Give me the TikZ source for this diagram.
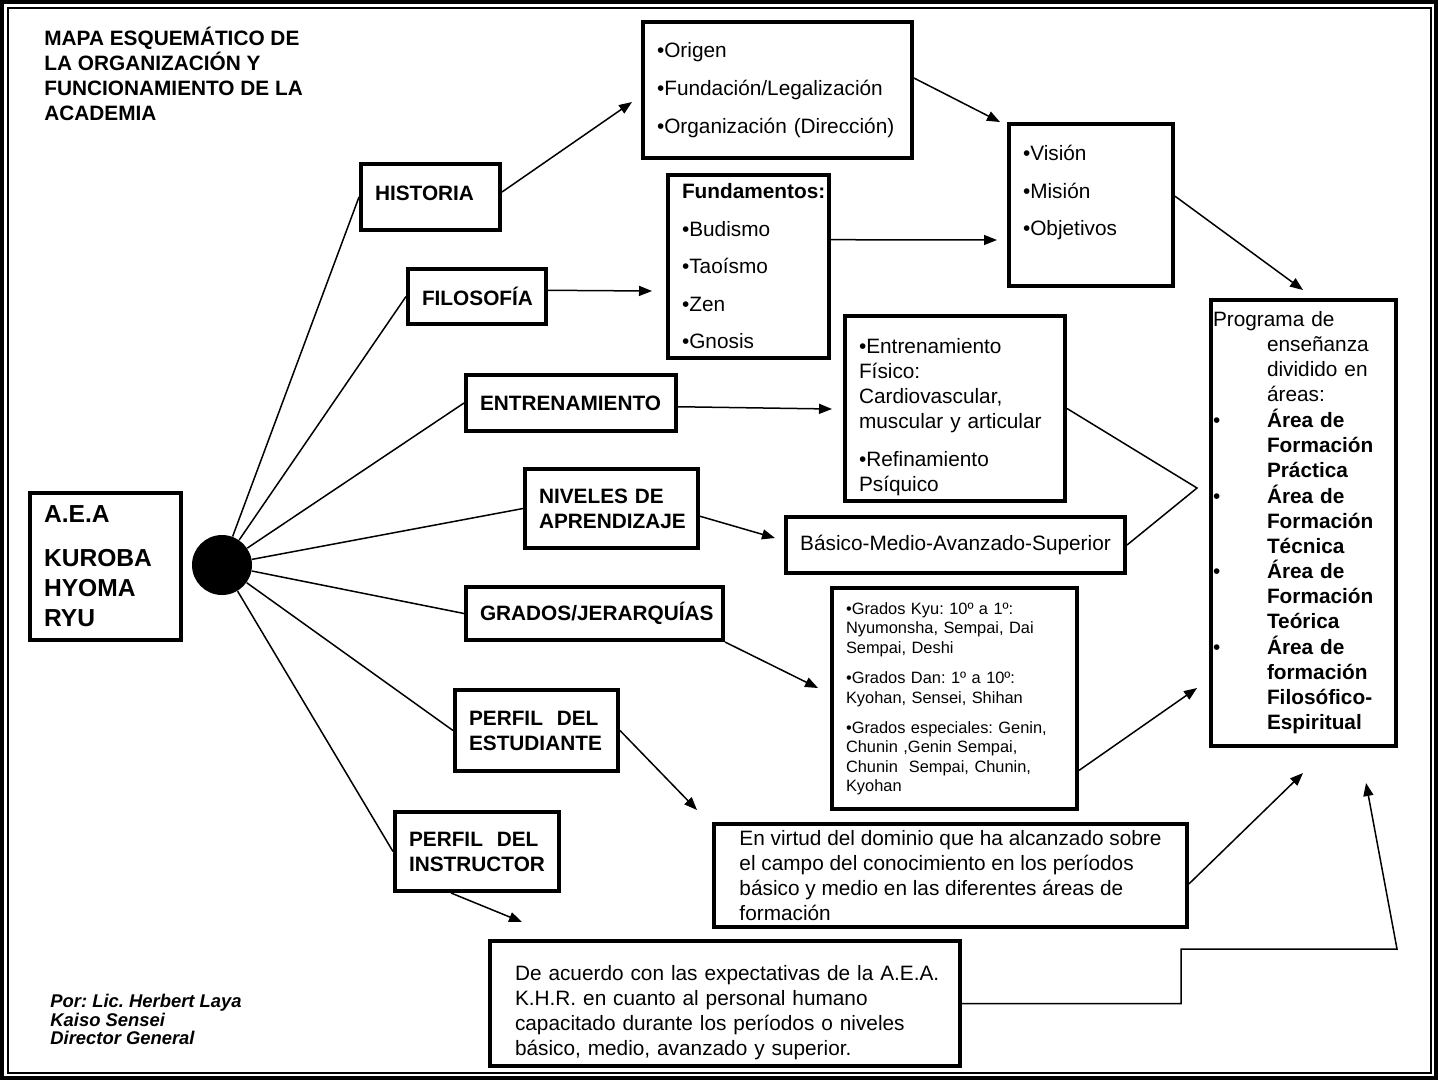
\documentclass[tikz,border=0pt]{standalone}
\usepackage{fontspec}
\setmainfont{Liberation Sans}
\usetikzlibrary{arrows.meta}
\hyphenpenalty=10000
\exhyphenpenalty=10000
\frenchspacing

\begin{document}
\begin{tikzpicture}
  [x=0.5pt,y=-0.5pt,
   box/.style={draw,line width=2pt,inner xsep=7pt,inner ysep=0pt,align=left,font=\fontsize{10.4}{12.5}\selectfont},
   head/.style={box,font=\fontsize{10.4}{12.5}\selectfont\bfseries},
   spoke/.style={line width=0.75pt},
   arr/.style={line width=0.75pt,-{Triangle[length=6.5pt,width=5pt]}}]

  \useasboundingbox (0,0) rectangle (1438,1083);
  % double frame
  \draw[line width=1.75pt] (2,2) rectangle (1436,1078);
  \draw[line width=1pt] (7.5,7.5) rectangle (1430.5,1072.5);

  \node[anchor=north west,inner sep=0pt,align=left,font=\fontsize{10.4}{12.5}\selectfont\bfseries] (title) at (44,27)
    {MAPA ESQUEMÁTICO DE\\LA ORGANIZACIÓN Y\\FUNCIONAMIENTO DE LA\\ACADEMIA};

  % left side
  \node[box,font=\fontsize{12.3}{15}\selectfont\bfseries,text width=61.5pt,minimum height=73.5pt] (aea) at (105.5,566.5)
    {A.E.A\\[7pt]KUROBA\\HYOMA\\RYU};
  \node[circle,fill=black,minimum size=30pt,inner sep=0pt] (hub) at (222,565) {};

  % first column
  \node[head,text width=55.5pt,minimum height=33pt,text depth=4pt] (hist) at (430.5,197) {HISTORIA};
  \node[head,text width=55pt,minimum height=27.5pt] (filo) at (477,296.5) {FILOSOFÍA};
  \node[head,text width=91pt,minimum height=28pt] (entr) at (571,403) {ENTRENAMIENTO};
  \node[head,text width=72.5pt,minimum height=39.5pt] (niv) at (611.5,508.5) {NIVELES DE\\APRENDIZAJE};
  \node[head,text width=114.5pt,minimum height=26.5pt] (grad) at (594.5,613.5) {GRADOS/JERARQUÍAS};
  \node[head,text width=67.5pt,minimum height=40.5pt] (pest) at (536.5,730.5) {PERFIL\ \ DEL\\ESTUDIANTE};
  \node[head,text width=68pt,minimum height=39.5pt] (pins) at (477,851.5) {PERFIL\ \ DEL\\INSTRUCTOR};

  % second column
  \node[box,text width=120.5pt,minimum height=68pt] (orig) at (777.5,90)
    {•Origen\\[6.5pt]•Fundación/Legalización\\[6.5pt]•Organización (Dirección)};
  \node[box,text width=66.5pt,minimum height=91.5pt] (fund) at (748.5,266.5)
    {\textbf{Fundamentos:}\\[6.25pt]•Budismo\\[6.25pt]•Taoísmo\\[6.25pt]•Zen\\[6.25pt]•Gnosis};
  \node[box,text width=68pt,minimum height=81pt,text depth=52pt] (vis) at (1091,205)
    {•Visión\\[6.25pt]•Misión\\[6.25pt]•Objetivos};
  \node[box,text width=96pt,minimum height=92.5pt,text height=16.5pt] (fis) at (955,408.5)
    {•Entrenamiento\\Físico:\\Cardiovascular,\\muscular y articular\\[6.5pt]•Refinamiento\\Psíquico};
  \node[box,align=center,text width=155.5pt,minimum height=28pt] (basi) at (955.5,545)
    {Básico-Medio-Avanzado-Superior};
  \node[box,font=\fontsize{8.2}{9.75}\selectfont,text width=108.5pt,minimum height=110.5pt] (gdet) at (954.5,698.5)
    {•Grados Kyu: 10º a 1º:\\Nyumonsha, Sempai, Dai\\Sempai, Deshi\\[5.5pt]
     •Grados Dan: 1º a 10º:\\Kyohan, Sensei, Shihan\\[5.25pt]
     •Grados especiales: Genin,\\Chunin ,Genin Sempai,\\Chunin\ \ Sempai, Chunin,\\Kyohan};
  \node[box,inner xsep=2pt,minimum width=236.5pt,minimum height=51.5pt] (virt) at (950.5,875.5)
    {En virtud del dominio que ha alcanzado sobre\\el campo del conocimiento en los períodos\\básico y medio en las diferentes áreas de\\formación};
  \node[box,inner xsep=12.5pt,text width=210pt,minimum height=62.5pt,text height=16.6pt] (acue) at (725,1003.5)
    {\mbox{De acuerdo con las expectativas de la A.E.A.}\\K.H.R. en cuanto al personal humano\\capacitado durante los períodos o niveles\\básico, medio, avanzado y superior.};

  % programme box
  \node[box,inner xsep=1pt,text width=90.5pt,minimum height=223pt] (prog) at (1303.5,523)
    {\begin{tabular}{@{}p{27pt}@{}l@{}}
     \multicolumn{2}{@{}l@{}}{Programa de}\\
     & enseñanza\\ & dividido en\\ & áreas:\\
     • & \textbf{Área de}\\ & \textbf{Formación}\\ & \textbf{Práctica}\\
     • & \textbf{Área de}\\ & \textbf{Formación}\\ & \textbf{Técnica}\\
     • & \textbf{Área de}\\ & \textbf{Formación}\\ & \textbf{Teórica}\\
     • & \textbf{Área de}\\ & \textbf{formación}\\ & \textbf{Filosófico-}\\ & \textbf{Espiritual}
     \end{tabular}};

  \node[anchor=north west,inner sep=0pt,align=left,font=\fontsize{9.2}{9.3}\selectfont\bfseries\itshape] (autor) at (50,994)
    {Por: Lic. Herbert Laya\\Kaiso Sensei\\Director General};

  % arrow ends
  \coordinate (tOrig) at (632,102);
  \coordinate (tVis) at (1000,122);
  \coordinate (tFund) at (652,291);
  \coordinate (tVisB) at (997,240);
  \coordinate (tProg) at (1303,290);
  \coordinate (tFis) at (832,409);
  \coordinate (tBasi) at (775,538);
  \coordinate (tGdet) at (818,688);
  \coordinate (apex) at (1197,488);
  \coordinate (tProgA) at (1197,688);
  \coordinate (tVirt) at (697,810);
  \coordinate (tProgB) at (1303,773);
  \coordinate (tAcue) at (522,922);
  \coordinate (kneeA) at (1181,949);
  \coordinate (kneeB) at (1397,949);
  \coordinate (tProgC) at (1366,783);

  \foreach \n in {hist,filo,entr,niv,grad,pest,pins}
    \draw[spoke] (hub) -- (\n.west);
  \foreach \from/\to in {hist.4/tOrig,orig.5/tVis,filo.5/tFund,fund.18/tVisB,vis.6/tProg,entr.-2/tFis,niv.-5/tBasi,grad.south east/tGdet,gdet.-30/tProgA,pest.east/tVirt,virt.-2/tProgB,pins.-122/tAcue}
    \draw[arr] (\from) -- (\to);
  \draw[spoke] (fis.east) -- (apex) -- (basi.east);
  \draw[arr] (acue.east) -| (kneeA) -- (kneeB) -- (tProgC);
\end{tikzpicture}
\end{document}
